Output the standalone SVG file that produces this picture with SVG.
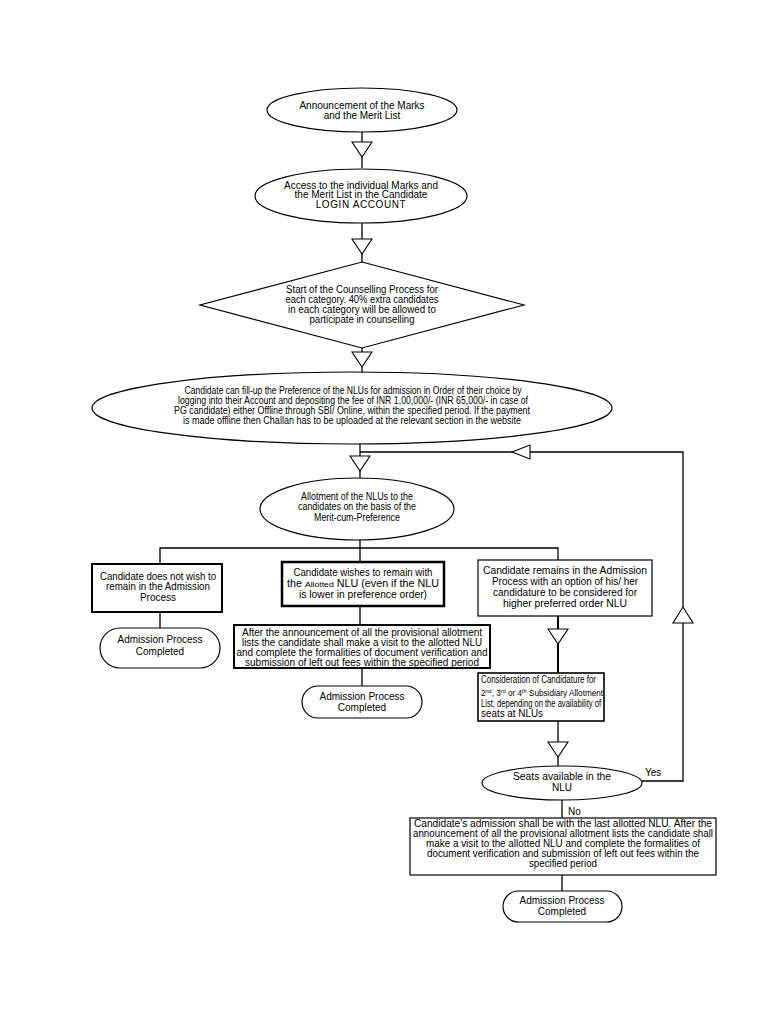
<svg xmlns="http://www.w3.org/2000/svg" width="768" height="1024" viewBox="0 0 768 1024">
<style>
.s{fill:#fff;stroke:#000;stroke-width:1.2}
.t{font-family:"Liberation Sans",Arial,sans-serif;font-size:10px;fill:#000;text-anchor:middle}
.sm{font-size:8px}
.sup{font-size:5.5px}
.l{text-anchor:start}
.c{fill:none;stroke:#000;stroke-width:1.3}
.a{fill:#fff;stroke:#000;stroke-width:1.1}
</style>
<defs>
<path id="tri" d="M-10,0 L10,0 L0,15 Z"/>
</defs>
<rect width="768" height="1024" fill="#fff"/>
<g id="connectors">
<path class="c" d="M362,132 V168"/>
<path class="c" d="M362,222 V262"/>
<path class="c" d="M362,348 V372"/>
<path class="c" d="M360,443 V478"/>
<path class="c" d="M360,452 H683 V781 H642"/>
<path class="c" d="M360,539 V548 M160,564 V548 H558 V560 M360,548 V562"/>
<path class="c" d="M160,612 V628"/>
<path class="c" d="M360,606 V625"/>
<path class="c" d="M362,668 V686"/>
<path class="c" style="stroke-width:2" d="M558,616 V673"/>
<path class="c" d="M558,721 V767"/>
<path class="c" d="M562,800 V818"/>
<path class="c" d="M562,875 V891"/>
<use href="#tri" class="a" x="362" y="142"/>
<use href="#tri" class="a" x="362" y="239"/>
<use href="#tri" class="a" x="362" y="352"/>
<use href="#tri" class="a" x="360" y="456"/>
<use href="#tri" class="a" x="558" y="629"/>
<use href="#tri" class="a" x="558" y="742"/>
<path class="a" d="M512,452 L530,445 L530,459 Z"/>
<path class="a" d="M683,607 L693,623 L673,623 Z"/>
<text class="t l" x="645" y="776">Yes</text>
<text class="t l" x="568" y="815">No</text>
</g>
<g id="n1">
<ellipse class="s" cx="362" cy="110" rx="95" ry="22"/>
<text class="t" x="362" y="108.5">Announcement of the Marks</text>
<text class="t" x="362" y="118.5">and the Merit List</text>
</g>
<g id="n2">
<ellipse class="s" cx="361" cy="196" rx="106" ry="27"/>
<text class="t" x="361" y="189">Access to the individual Marks and</text>
<text class="t" x="361" y="198">the Merit List in the Candidate</text>
<text class="t" x="361" y="208" style="letter-spacing:0.6px">LOGIN ACCOUNT</text>
</g>
<g id="n3">
<polygon class="s" points="362,262 524,305 362,348 200,305"/>
<text class="t" x="362" y="293" textLength="152" lengthAdjust="spacingAndGlyphs">Start of the Counselling Process for</text>
<text class="t" x="362" y="303" textLength="153" lengthAdjust="spacingAndGlyphs">each category. 40% extra candidates</text>
<text class="t" x="362" y="313" textLength="148" lengthAdjust="spacingAndGlyphs">in each category will be allowed to</text>
<text class="t" x="362" y="323" textLength="105" lengthAdjust="spacingAndGlyphs">participate in counselling</text>
</g>
<g id="n4">
<ellipse class="s" cx="352" cy="408" rx="260" ry="36"/>
<text class="t" x="353" y="394" textLength="337" lengthAdjust="spacingAndGlyphs">Candidate can fill-up the Preference of the NLUs for admission in Order of their choice by</text>
<text class="t" x="353" y="404" textLength="350" lengthAdjust="spacingAndGlyphs">logging into their  Account and depositing the fee of INR 1,00,000/- (INR 65,000/- in case of</text>
<text class="t" x="352" y="414" textLength="356" lengthAdjust="spacingAndGlyphs">PG candidate) either Offline through SBI/ Online, within the specified period. If the payment</text>
<text class="t" x="352" y="424" textLength="338" lengthAdjust="spacingAndGlyphs">is made offline then Challan has to be uploaded at the relevant section in the website</text>
</g>
<g id="n5">
<ellipse class="s" cx="357" cy="509" rx="97" ry="31"/>
<text class="t" x="357" y="500" textLength="112" lengthAdjust="spacingAndGlyphs">Allotment of the NLUs to the</text>
<text class="t" x="357" y="510" textLength="118" lengthAdjust="spacingAndGlyphs">candidates on the basis of the</text>
<text class="t" x="357" y="521" textLength="86" lengthAdjust="spacingAndGlyphs">Merit-cum-Preference</text>
</g>
<g id="n6">
<rect class="s" style="stroke-width:2" x="92" y="564" width="130" height="48"/>
<text class="t" x="158" y="580" textLength="116" lengthAdjust="spacingAndGlyphs">Candidate does not wish to</text>
<text class="t" x="158" y="590" textLength="104" lengthAdjust="spacingAndGlyphs">remain in the Admission</text>
<text class="t" x="158" y="601">Process</text>
</g>
<g id="n7">
<rect class="s" style="stroke-width:2.5" x="282" y="562" width="162" height="44"/>
<text class="t" x="363" y="576" textLength="139" lengthAdjust="spacingAndGlyphs">Candidate wishes to remain with</text>
<text class="t" x="363" y="587" textLength="152" lengthAdjust="spacingAndGlyphs">the <tspan class="sm">Allotted</tspan> NLU (even if the NLU</text>
<text class="t" x="363" y="598" textLength="128" lengthAdjust="spacingAndGlyphs">is lower in preference order)</text>
</g>
<g id="n8">
<rect class="s" x="478" y="560" width="174" height="56"/>
<text class="t" x="565" y="574" textLength="164" lengthAdjust="spacingAndGlyphs">Candidate remains in the Admission</text>
<text class="t" x="565" y="585" textLength="146" lengthAdjust="spacingAndGlyphs">Process with an option of his/ her</text>
<text class="t" x="565" y="596" textLength="144" lengthAdjust="spacingAndGlyphs">candidature to be considered for</text>
<text class="t" x="565" y="607" textLength="124" lengthAdjust="spacingAndGlyphs">higher preferred order NLU</text>
</g>
<g id="n9">
<rect class="s" x="100" y="628" width="120" height="40" rx="20" ry="20"/>
<text class="t" x="160" y="643">Admission Process</text>
<text class="t" x="160" y="655">Completed</text>
</g>
<g id="n10">
<rect class="s" style="stroke-width:2" x="234" y="625" width="256" height="43"/>
<text class="t" x="362" y="635.5" textLength="240" lengthAdjust="spacingAndGlyphs">After the announcement of all the provisional allotment</text>
<text class="t" x="362" y="645.5" textLength="240" lengthAdjust="spacingAndGlyphs">lists the candidate shall make a visit to the allotted NLU</text>
<text class="t" x="362" y="655.5" textLength="251" lengthAdjust="spacingAndGlyphs">and complete the formalities of document verification and</text>
<text class="t" x="362" y="665.5" textLength="234" lengthAdjust="spacingAndGlyphs">submission of left out fees within the specified period</text>
</g>
<g id="n11">
<rect class="s" x="302" y="686" width="120" height="32" rx="16" ry="16"/>
<text class="t" x="362" y="700">Admission Process</text>
<text class="t" x="362" y="711">Completed</text>
</g>
<g id="n12">
<rect class="s" style="stroke-width:1.6" x="478" y="673" width="126" height="48"/>
<text class="t l" x="481" y="683" textLength="115" lengthAdjust="spacingAndGlyphs">Consideration of Candidature for</text>
<text class="t l" x="481" y="696" style="font-size:8.2px">2<tspan class="sup" dy="-3">nd</tspan><tspan dy="3">, 3</tspan><tspan class="sup" dy="-3">rd</tspan><tspan dy="3"> or 4</tspan><tspan class="sup" dy="-3">th</tspan><tspan dy="3"> Subsidiary Allotment</tspan></text>
<text class="t l" x="481" y="707" textLength="120" lengthAdjust="spacingAndGlyphs">List, depending on the availability of</text>
<text class="t l" x="481" y="717" textLength="62" lengthAdjust="spacingAndGlyphs">seats at NLUs</text>
</g>
<g id="n13">
<ellipse class="s" cx="562" cy="783" rx="80" ry="17"/>
<text class="t" x="562" y="780" textLength="98" lengthAdjust="spacingAndGlyphs">Seats available in the</text>
<text class="t" x="562" y="791">NLU</text>
</g>
<g id="n14">
<rect class="s" x="410" y="818" width="306" height="57"/>
<text class="t" x="563" y="826.5" textLength="298" lengthAdjust="spacingAndGlyphs">Candidate's admission shall be with the last allotted NLU. After the</text>
<text class="t" x="563" y="836.5" textLength="300" lengthAdjust="spacingAndGlyphs">announcement of all the provisional allotment lists the candidate shall</text>
<text class="t" x="563" y="846.5" textLength="274" lengthAdjust="spacingAndGlyphs">make a visit to the allotted NLU and complete the formalities of</text>
<text class="t" x="563" y="856.5" textLength="272" lengthAdjust="spacingAndGlyphs">document verification and submission of left out fees within the</text>
<text class="t" x="563" y="867" textLength="68" lengthAdjust="spacingAndGlyphs">specified period</text>
</g>
<g id="n15">
<rect class="s" x="503" y="891" width="119" height="31" rx="15.5" ry="15.5"/>
<text class="t" x="562" y="904">Admission Process</text>
<text class="t" x="562" y="915">Completed</text>
</g>
</svg>
